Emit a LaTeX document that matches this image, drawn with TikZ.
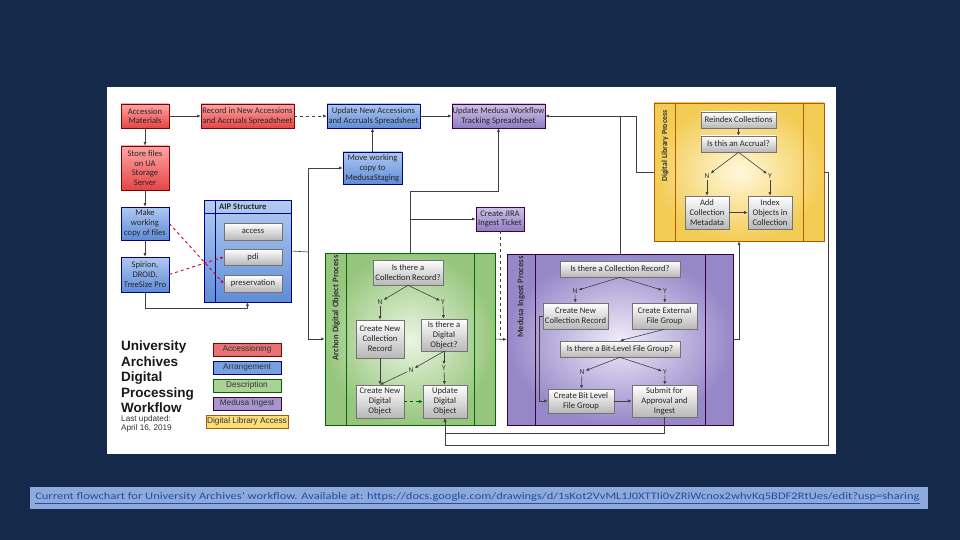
\documentclass[tikz,border=0pt]{standalone}
\usepackage{fontspec}
\setmainfont{Carlito}
\newfontfamily\arialf{Liberation Sans}
\usetikzlibrary{arrows.meta}
\definecolor{navy}{HTML}{15294A}
\definecolor{capbg}{HTML}{8FA9DA}
\definecolor{linkc}{HTML}{1F4FA8}
\tikzset{
  bx/.style={draw, line width=0.6pt, align=center, font=\fontsize{8.6}{9.8}\selectfont, text=black!85, inner sep=0pt},
  red/.style={bx, draw=red!50!black, top color=red!35!white, bottom color=red!70!white!90!black},
  blu/.style={bx, draw=blue!50!black, top color={rgb,255:red,175;green,200;blue,240}, bottom color={rgb,255:red,95;green,140;blue,215}},
  pur/.style={bx, draw=violet!50!black, top color={rgb,255:red,205;green,195;blue,230}, bottom color={rgb,255:red,145;green,125;blue,195}},
  gry/.style={bx, draw=black!55, top color=white, bottom color=black!28},
  arr/.style={-{Latex[length=3.5pt,width=3pt]}, line width=0.6pt, draw=black!75},
  ln/.style={line width=0.6pt, draw=black!75},
  lab/.style={font=\fontsize{7.5}{8}\selectfont, text=black!80, inner sep=1pt},
  lane/.style={draw, line width=0.7pt},
  lanel/.style={rotate=90, font=\bfseries\fontsize{8.6}{9}\selectfont, text=black!80},
  leg/.style={draw, line width=0.4pt, font=\arialf\fontsize{8.3}{9}\selectfont, text=black!80, inner sep=0pt},
}
\newcommand\B[7]{\node[#2, minimum width={#5-#3}, minimum height={#6-#4}] (#1) at ({(#3+#5)/2},{(#4+#6)/2}) {#7};}
\begin{document}
\begin{tikzpicture}[x=1pt,y=-1pt]
\fill[navy] (0,0) rectangle (960,540);
\useasboundingbox (0,0) rectangle (960,540);
\fill[white] (107,87) rectangle (836,454);
% caption
\fill[capbg] (30,487) rectangle (928,509);
\node[anchor=west, inner sep=0pt, text=linkc, xscale=1.25, font=\fontsize{10}{11}\selectfont] (cap) at (35,498) {\underline{Current flowchart for University Archives' workflow. Available at: https://docs.google.com/drawings/d/1sKot2VvML1J0XTTIi0vZRiWcnox2whvKq5BDF2RtUes/edit?usp=sharing}};

% swimlanes
\node[lane, draw=green!40!black, inner color={rgb,255:red,235;green,245;blue,225}, outer color={rgb,255:red,150;green,198;blue,125}, minimum width=170, minimum height=172] (arch) at (410,339) {};
\draw[green!40!black, line width=0.6pt] (346,253) -- (346,425) (474,253) -- (474,425);
\node[lanel] (archl) at (336,308) {Archon Digital Object Process};

\node[lane, draw=violet!45!black, inner color={rgb,255:red,240;green,235;blue,250}, outer color={rgb,255:red,150;green,135;blue,200}, minimum width=226, minimum height=171] (mbox) at (620,339.5) {};
\draw[violet!45!black, line width=0.6pt] (535,254) -- (535,425) (705,254) -- (705,425);
\node[lanel] (medl) at (521,297) {Medusa Ingest Process};

\node[lane, draw=orange!70!black, inner color={rgb,255:red,255;green,248;blue,220}, outer color={rgb,255:red,243;green,204;blue,85}, minimum width=170, minimum height=138] (ybox) at (739,172) {};
\draw[orange!70!black, line width=0.6pt] (675,103) -- (675,241) (803,103) -- (803,241);
\node[lanel, font=\bfseries\fontsize{7.8}{8}\selectfont] (yl) at (665,146) {Digital Library Process};

% AIP
\node[lane, draw=blue!50!black, top color={rgb,255:red,180;green,205;blue,240}, bottom color={rgb,255:red,95;green,140;blue,215}, minimum width=87, minimum height=102] (aip) at (247.5,251) {};
\draw[blue!50!black, line width=0.6pt] (204,213) -- (291,213) (215,200) -- (215,302);
\node[anchor=west, font=\bfseries\fontsize{8.6}{9}\selectfont, text=black!85, inner sep=0pt] (aipl) at (219,207) {AIP Structure};
\B{access}{gry}{224}{223}{282}{240}{access}
\B{pdi}{gry}{224}{249}{282}{265}{pdi}
\B{pres}{gry}{224}{275}{282}{292}{preservation}

% top boxes
\B{acc}{red}{121}{104}{169}{128}{Accession\\Materials}
\B{rec}{red}{201}{104}{294}{128}{Record in New Accessions\\and Accruals Spreadsheet}
\B{upd}{blu}{327}{104}{420}{128}{Update New Accessions\\and Accruals Spreadsheet}
\B{med}{pur}{452}{104}{545}{128}{Update Medusa Workflow\\Tracking Spreadsheet}
\B{store}{red}{121}{146}{169}{190}{Store files\\on UA\\Storage\\Server}
\B{make}{blu}{121}{207}{169}{240}{Make\\working\\copy of files}
\B{spir}{blu}{121}{257}{169}{292}{Spirion,\\DROID,\\TreeSize Pro}
\B{move}{blu}{343}{152}{402}{184}{Move working\\copy to\\MedusaStaging}
\B{jira}{pur}{476}{207}{524}{231}{Create JIRA\\Ingest Ticket}

% yellow inner
\B{rein}{gry}{701}{112}{776}{128}{Reindex Collections}
\B{accr}{gry}{701}{136}{776}{152}{Is this an Accrual?}
\node[lab] (yN) at (707,176) {N};
\node[lab] (yY) at (770,176) {Y};
\B{add}{gry}{685}{196}{729}{229}{Add\\Collection\\Metadata}
\B{idx}{gry}{748}{196}{792}{229}{Index\\Objects in\\Collection}

% archon inner
\B{q1}{gry}{373}{260}{443}{285}{Is there a\\Collection Record?}
\node[lab] (aN) at (380,302) {N};
\node[lab] (aY) at (443,302) {Y};
\B{cn}{gry}{356}{320}{404}{358}{Create New\\Collection\\Record}
\B{q2}{gry}{421}{319}{467}{351}{Is there a\\Digital\\Object?}
\node[lab] (bN) at (411,370) {N};
\node[lab] (bY) at (444,368) {Y};
\B{cdo}{gry}{356}{385}{404}{418}{Create New\\Digital\\Object}
\B{udo}{gry}{423}{385}{467}{418}{Update\\Digital\\Object}

% medusa inner
\B{mq1}{gry}{560}{261}{680}{277}{Is there a Collection Record?}
\node[lab] (mN) at (575,291) {N};
\node[lab] (mY) at (665,291) {Y};
\B{mcn}{gry}{543}{303}{608}{329}{Create New\\Collection Record}
\B{mext}{gry}{632}{303}{697}{329}{Create External\\File Group}
\B{mq2}{gry}{560}{341}{680}{357}{Is there a Bit-Level File Group?}
\node[lab] (mN2) at (582,372) {N};
\node[lab] (mY2) at (665,372) {Y};
\B{mbit}{gry}{548}{389}{614}{413}{Create Bit Level\\File Group}
\B{msub}{gry}{632}{385}{697}{417}{Submit for\\Approval and\\Ingest}

% title and legend
\node[anchor=north west, align=left, inner sep=0pt, font=\arialf\bfseries\fontsize{13.5}{15.5}\selectfont, text=black!90] (title) at (121,341) {University\\Archives\\Digital\\Processing\\Workflow};
\node[anchor=north west, align=left, inner sep=0pt, font=\arialf\fontsize{8.2}{9}\selectfont, text=black!80] (upd2) at (121,415) {Last updated:\\April 16, 2019};
\node[leg, fill={rgb,255:red,230;green,115;blue,115}, draw=red!50!black, minimum width=68, minimum height=13] (l1) at (247,349.5) {Accessioning};
\node[leg, fill={rgb,255:red,120;green,160;blue,225}, draw=blue!50!black, minimum width=68, minimum height=13] (l2) at (247,367.5) {Arrangement};
\node[leg, fill={rgb,255:red,170;green,210;blue,150}, draw=green!40!black, minimum width=68, minimum height=13] (l3) at (247,385.5) {Description};
\node[leg, fill={rgb,255:red,165;green,150;blue,210}, draw=violet!50!black, minimum width=68, minimum height=13] (l4) at (247,403.5) {Medusa Ingest};
\node[leg, fill={rgb,255:red,252;green,222;blue,120}, draw=orange!70!black, minimum width=82, minimum height=13] (l5) at (247,421.5) {Digital Library Access};

% connectors top
\draw[arr] (acc) -- (rec);
\draw[arr, dashed] (rec) -- (upd);
\draw[arr] (upd) -- (med);
\draw[arr] (acc) -- (store);
\draw[arr] (store) -- (make);
\draw[arr] (make) -- (spir);
\draw[arr] (spir.south) -- ++(0,16) -| (aip.south);
\draw[arr, dashed, draw=purple!70!red, line width=0.9pt] (make.east) -- (pres.west);
\draw[arr, dashed, draw=purple!70!red, line width=0.9pt] (spir.east) -- (pdi.west);
\coordinate (j) at (308,252);
\draw[ln] (aip.east) -- (j);
\draw[arr] (j) |- (move.west);
\draw[arr] (j) |- (arch.west);
\draw[arr] (move.north) -- (move.north |- upd.south);
\coordinate (a1) at (410,191);
\draw[arr] (arch.north -| a1) -- (a1) -| (med.south);
\draw[arr] (a1 |- jira.west) -- (jira.west);
\draw[ln, dashed] (jira.south) -- (jira.south |- mbox.west);
\draw[arr] (arch.east) -- (mbox.west);
\coordinate (c620) at (620,116);
\draw[arr] (mbox.north -| c620) -- (c620) -- (med.east);
\coordinate (c636) at (636,116);
\draw[ln] (ybox.west) -| (c636) -- (c620);
\draw[arr] (mbox.east) -| (ybox.south);
\coordinate (c828) at (828,445);
\draw[arr] (ybox.east) -| (c828) -| (udo.south);
\draw[arr] (msub.south) |- ([yshift=-15pt]udo.south) -- (udo.south);

% yellow connectors
\draw[arr] (rein) -- (accr);
\draw[arr] (accr.south) -- (yN);
\draw[arr] (accr.south) -- (yY);
\draw[arr] (yN) -- (add);
\draw[arr] (yY) -- (idx);
\draw[arr] (add) -- (idx);

% archon connectors
\draw[arr] (q1.south) -- (aN);
\draw[arr] (q1.south) -- (aY);
\draw[arr] (aN) -- (cn);
\draw[arr] (aY) -- (q2);
\draw[arr] (q2.south) -- (bN);
\draw[arr] (q2.south -| bY) -- (bY);
\draw[arr] (bN) -- (cdo.north);
\draw[arr] (bY) -- (udo);
\draw[arr] (cn) -- (cdo);
\draw[arr, dashed, draw=green!40!black] (cdo) -- (udo);

% medusa connectors
\draw[arr] (mq1.south) -- (mN);
\draw[arr] (mq1.south) -- (mY);
\draw[arr] (mN) -- (mcn);
\draw[arr] (mY) -- (mext);
\draw[arr] (mext.south) -- (mq2.north);
\draw[arr] (mq2.south) -- (mN2);
\draw[arr] (mq2.south) -- (mY2);
\draw[arr] (mN2) -- (mbit);
\draw[arr] (mY2) -- (msub);
\draw[arr] (mbit) -- (msub);
\draw[arr] (mcn.west) -- ++(-3,0) |- (mbit.west);
\end{tikzpicture}
\end{document}
